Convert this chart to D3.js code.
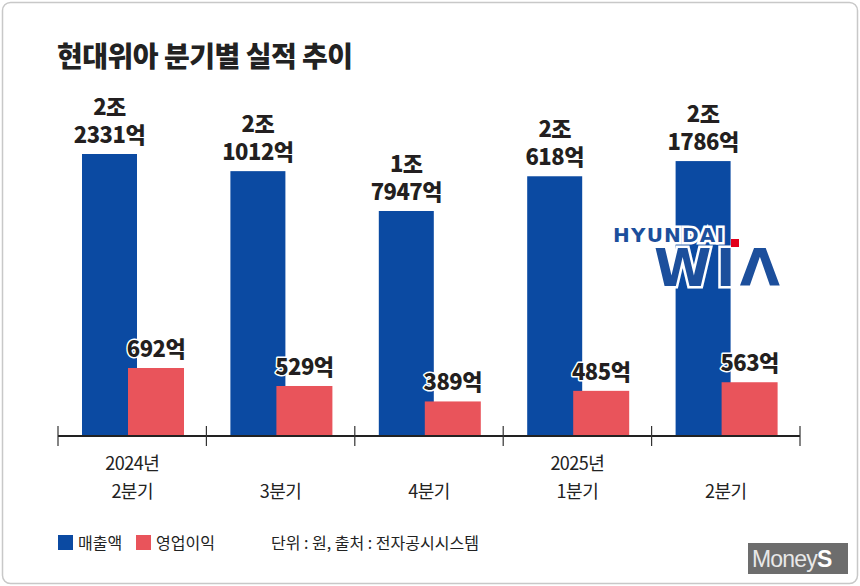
<!DOCTYPE html>
<html><head><meta charset="utf-8">
<script src="https://cdn.jsdelivr.net/npm/d3@7"></script>
<style>body{margin:0;background:#fff}svg{display:block}</style>
</head><body>
<svg id="c" width="860" height="586"></svg>
<script>
const categories = [["2024년","2분기"],["3분기"],["4분기"],["2025년","1분기"],["2분기"]];
const sales = [22331, 21012, 17947, 20618, 21786];
const salesLabels = [["2조","2331억"],["2조","1012억"],["1조","7947억"],["2조","618억"],["2조","1786억"]];
const profit = [692, 529, 389, 485, 563];
const profitLabels = ["692억","529억","389억","485억","563억"];
const seriesNames = ["매출액","영업이익"];
const colors = ["#0b4aa2","#e9545b"];

const F = "'Noto Sans CJK KR', 'Noto Sans', sans-serif";
const svg = d3.select("#c");
svg.append("rect").attr("x",2.5).attr("y",2.5).attr("width",855).attr("height",581).attr("rx",8)
  .attr("fill","#fff").attr("stroke","#c8c8c8").attr("stroke-width",1.5);

svg.append("text").attr("x",57).attr("y",67).text("현대위아 분기별 실적 추이")
  .attr("font-family",F).attr("font-weight",900).attr("font-size",28).attr("fill","#222").attr("letter-spacing",-0.5);

const x = d3.scaleBand().domain(d3.range(5)).range([58,800]);
const base = 436;
const ySales = d3.scaleLinear().domain([640,22331]).range([base,154]);
const yProfit = d3.scaleLinear().domain([76,692]).range([base,368]);

const g = svg.append("g");
sales.forEach((v,i)=>{
  g.append("rect").attr("x",x(i)+24).attr("y",ySales(v)).attr("width",55).attr("height",base-ySales(v)).attr("fill",colors[0]);
});
// logo
const lg = svg.append("g");
lg.append("text").attr("x",613).attr("y",242).text("HYUNDAI").attr("font-family","'DejaVu Sans', sans-serif")
  .attr("font-weight",700).attr("font-size",20).attr("fill","#1c4f9c").attr("letter-spacing",1).attr("textLength",112)
  .attr("stroke","#fff").attr("stroke-width",5).attr("paint-order","stroke");
lg.append("text").attr("x",654).attr("y",286).text("WIΛ").attr("font-family","'DejaVu Sans', sans-serif")
  .attr("font-weight",900).attr("font-size",52).attr("fill","#1c4f9c").attr("textLength",126)
  .attr("stroke","#fff").attr("stroke-width",5).attr("paint-order","stroke");
lg.append("rect").attr("x",731).attr("y",239).attr("width",8).attr("height",8).attr("fill","#e3001b");

profit.forEach((v,i)=>{
  g.append("rect").attr("x",x(i)+70).attr("y",yProfit(v)).attr("width",56).attr("height",base-yProfit(v)).attr("fill",colors[1]);
});

// axis
const ax = svg.append("g");
ax.append("line").attr("x1",58).attr("x2",800).attr("y1",base).attr("y2",base).attr("stroke","#222").attr("stroke-width",2.2);
d3.range(6).forEach(i=>{
  const xx = i<5 ? x(i) : x.range()[1];
  ax.append("line").attr("x1",xx).attr("x2",xx).attr("y1",base-10).attr("y2",base+10).attr("stroke","#333").attr("stroke-width",1.2);
});
categories.forEach((c,i)=>{
  const cx = x(i)+x.bandwidth()/2;
  c.forEach((t,j)=>{
    const y = c.length===2 ? 470+j*28 : 498;
    svg.append("text").attr("x",cx).attr("y",y).attr("text-anchor","middle").text(t)
      .attr("font-family",F).attr("font-size",18).attr("fill","#222").attr("letter-spacing",-0.5);
  });
});

const lab = (t,xx,y)=>svg.append("text").attr("x",xx).attr("y",y).attr("text-anchor","middle").text(t)
  .attr("font-family",F).attr("font-weight",900).attr("font-size",22).attr("fill","#231f20").attr("letter-spacing",-0.5)
  .attr("stroke","#fff").attr("stroke-width",3).attr("stroke-linejoin","round").attr("paint-order","stroke");
salesLabels.forEach((l,i)=>{
  const cx = x(i)+24+27.5, top = ySales(sales[i]);
  lab(l[0],cx,top-39); lab(l[1],cx,top-11);
});
profitLabels.forEach((l,i)=>{
  lab(l, x(i)+70+28, yProfit(profit[i])-11);
});

// legend
seriesNames.forEach((n,i)=>{
  const lx = [58,136][i];
  svg.append("rect").attr("x",lx).attr("y",535).attr("width",15).attr("height",15).attr("fill",colors[i]);
  svg.append("text").attr("x",lx+20).attr("y",549).text(n).attr("font-family",F).attr("font-size",16).attr("fill","#222");
});
svg.append("text").attr("x",271).attr("y",549).text("단위 : 원, 출처 : 전자공시시스템").attr("font-family",F).attr("font-size",16).attr("fill","#222");

// MoneyS
svg.append("rect").attr("x",748).attr("y",543).attr("width",100).attr("height",31).attr("fill","#6d6d6d");
const ms = svg.append("text").attr("x",752).attr("y",567).attr("font-family","'Liberation Sans', Arial, sans-serif").attr("font-size",23).attr("fill","#e8e8e8");
ms.append("tspan").text("Money").attr("font-weight",300).attr("letter-spacing",-0.8);
ms.append("tspan").text("S").attr("font-weight",700).attr("fill","#fff");
</script>
</body></html>
